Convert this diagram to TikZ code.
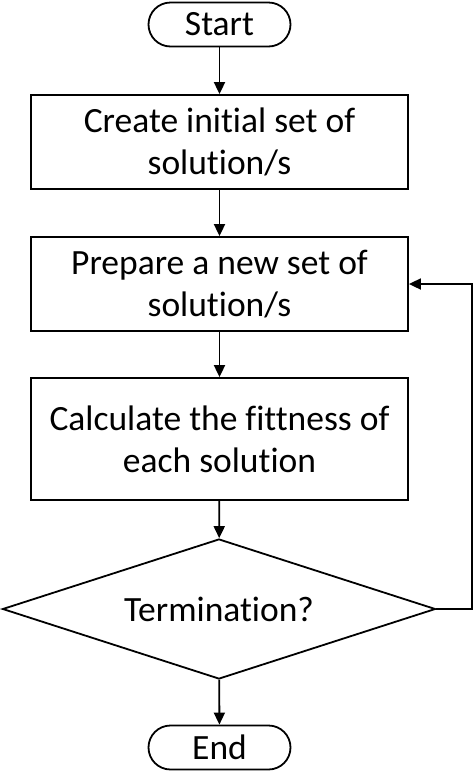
\documentclass[tikz,border=0pt]{standalone}
\usepackage{fontspec}
\setmainfont{Carlito}[Ligatures={NoCommon}]
\usetikzlibrary{shapes.geometric,arrows.meta}
\begin{document}
\begin{tikzpicture}[x=1pt,y=-1pt,
  every node/.style={font=\fontsize{35.5}{42}\selectfont},
  term/.style={draw,line width=1.8pt,rounded corners=22pt,minimum width=142pt,minimum height=44pt,inner sep=0pt},
  procbox/.style={draw,line width=1.8pt,minimum width=377pt,align=center,inner sep=0pt},
  decision/.style={draw,diamond,aspect=3.1,line width=1.8pt,minimum width=433pt,minimum height=140pt,inner sep=0pt},
  flow/.style={line width=1.8pt,-{Triangle[length=12pt,width=11pt]}}]
\useasboundingbox (0,0) rectangle (474,772);
\node[term] (start) at (219.5,24.5) {Start};
\node[procbox,minimum height=94pt] (init) at (219.5,142) {Create initial set of\\solution/s};
\node[procbox,minimum height=94pt] (prep) at (219.5,284) {Prepare a new set of\\solution/s};
\node[procbox,minimum height=122pt] (calc) at (219.5,439) {Calculate the fittness of\\each solution};
\node[decision] (term) at (219,609) {Termination?};
\node[term] (end) at (219.5,747.5) {End};
\coordinate (loop) at (472,284);
\draw[flow] (start) -- (init);
\draw[flow] (init) -- (prep);
\draw[flow] (prep) -- (calc);
\draw[flow] (calc) -- (term);
\draw[flow] (term) -- (end);
\draw[flow] (term.east) -| (loop) -- (prep.east);
\end{tikzpicture}
\end{document}
